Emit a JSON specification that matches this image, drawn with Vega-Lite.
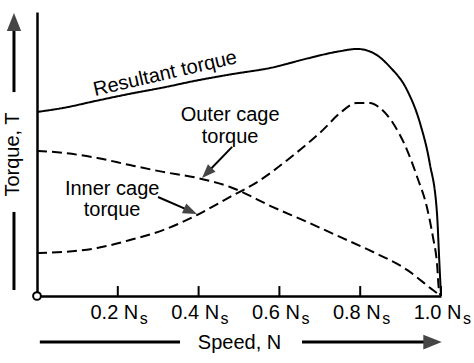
{
  "$schema": "https://vega.github.io/schema/vega-lite/v6.json",
  "width": 404,
  "height": 284,
  "autosize": "none",
  "padding": {"left": 37, "top": 12, "right": 33, "bottom": 67},
  "background": "white",
  "config": {"view": {"stroke": null}, "font": "Liberation Sans"},
  "datasets": {
    "curves": [
      {"curve": "Resultant", "speed": 0.0, "torque": 0.648},
      {"curve": "Resultant", "speed": 0.064, "torque": 0.662},
      {"curve": "Resultant", "speed": 0.149, "torque": 0.688},
      {"curve": "Resultant", "speed": 0.23, "torque": 0.712},
      {"curve": "Resultant", "speed": 0.312, "torque": 0.734},
      {"curve": "Resultant", "speed": 0.396, "torque": 0.759},
      {"curve": "Resultant", "speed": 0.478, "torque": 0.78},
      {"curve": "Resultant", "speed": 0.584, "torque": 0.805},
      {"curve": "Resultant", "speed": 0.668, "torque": 0.836},
      {"curve": "Resultant", "speed": 0.75, "torque": 0.862},
      {"curve": "Resultant", "speed": 0.792, "torque": 0.87},
      {"curve": "Resultant", "speed": 0.832, "torque": 0.856},
      {"curve": "Resultant", "speed": 0.874, "torque": 0.806},
      {"curve": "Resultant", "speed": 0.916, "torque": 0.725},
      {"curve": "Resultant", "speed": 0.948, "torque": 0.609},
      {"curve": "Resultant", "speed": 0.972, "torque": 0.468},
      {"curve": "Resultant", "speed": 0.99, "torque": 0.292},
      {"curve": "Resultant", "speed": 0.996, "torque": 0.116},
      {"curve": "Resultant", "speed": 1.0, "torque": 0.0},
      {"curve": "Outer", "speed": 0.0, "torque": 0.511},
      {"curve": "Outer", "speed": 0.064, "torque": 0.504},
      {"curve": "Outer", "speed": 0.149, "torque": 0.486},
      {"curve": "Outer", "speed": 0.23, "torque": 0.461},
      {"curve": "Outer", "speed": 0.312, "torque": 0.437},
      {"curve": "Outer", "speed": 0.396, "torque": 0.416},
      {"curve": "Outer", "speed": 0.478, "torque": 0.384},
      {"curve": "Outer", "speed": 0.584, "torque": 0.313},
      {"curve": "Outer", "speed": 0.668, "torque": 0.261},
      {"curve": "Outer", "speed": 0.75, "torque": 0.208},
      {"curve": "Outer", "speed": 0.832, "torque": 0.155},
      {"curve": "Outer", "speed": 0.916, "torque": 0.092},
      {"curve": "Outer", "speed": 0.98, "torque": 0.021},
      {"curve": "Outer", "speed": 1.0, "torque": 0.0},
      {"curve": "Inner", "speed": 0.0, "torque": 0.151},
      {"curve": "Inner", "speed": 0.064, "torque": 0.155},
      {"curve": "Inner", "speed": 0.149, "torque": 0.169},
      {"curve": "Inner", "speed": 0.23, "torque": 0.197},
      {"curve": "Inner", "speed": 0.312, "torque": 0.232},
      {"curve": "Inner", "speed": 0.396, "torque": 0.285},
      {"curve": "Inner", "speed": 0.478, "torque": 0.349},
      {"curve": "Inner", "speed": 0.545, "torque": 0.401},
      {"curve": "Inner", "speed": 0.626, "torque": 0.486},
      {"curve": "Inner", "speed": 0.708, "torque": 0.585},
      {"curve": "Inner", "speed": 0.75, "torque": 0.644},
      {"curve": "Inner", "speed": 0.792, "torque": 0.68},
      {"curve": "Inner", "speed": 0.824, "torque": 0.68},
      {"curve": "Inner", "speed": 0.849, "torque": 0.662},
      {"curve": "Inner", "speed": 0.881, "torque": 0.609},
      {"curve": "Inner", "speed": 0.916, "torque": 0.514},
      {"curve": "Inner", "speed": 0.941, "torque": 0.419},
      {"curve": "Inner", "speed": 0.965, "torque": 0.313},
      {"curve": "Inner", "speed": 0.98, "torque": 0.208},
      {"curve": "Inner", "speed": 0.99, "torque": 0.116},
      {"curve": "Inner", "speed": 0.995, "torque": 0.021},
      {"curve": "Inner", "speed": 1.0, "torque": 0.0}
    ],
    "ticks": [
      {"speed": 0.2, "torque": 0}, {"speed": 0.4, "torque": 0}, {"speed": 0.6, "torque": 0},
      {"speed": 0.8, "torque": 0}, {"speed": 1.0, "torque": 0}
    ],
    "labels": [
      {"text": "Outer cage", "speed": 0.478, "torque": 0.616},
      {"text": "torque", "speed": 0.478, "torque": 0.539},
      {"text": "Inner cage", "speed": 0.186, "torque": 0.356},
      {"text": "torque", "speed": 0.186, "torque": 0.282}
    ],
    "resultantLabel": [{"text": "Resultant torque", "speed": 0.317, "torque": 0.783}],
    "pointers": [
      {"name": "outer", "speed": 0.483, "torque": 0.525, "speed2": 0.4205, "torque2": 0.433},
      {"name": "inner", "speed": 0.2995, "torque": 0.3486, "speed2": 0.38, "torque2": 0.2986}
    ],
    "axisArrows": [
      {"name": "speed-left", "speed": 0.007, "torque": -0.162, "speed2": 0.354, "torque2": -0.162},
      {"name": "speed-right", "speed": 0.656, "torque": -0.162, "speed2": 0.97, "torque2": -0.162},
      {"name": "torque-top", "speed": -0.057, "torque": 0.718, "speed2": -0.057, "torque2": 0.944},
      {"name": "torque-bottom", "speed": -0.057, "torque": 0.296, "speed2": -0.057, "torque2": 0.021}
    ],
    "heads": [
      {"name": "outer", "speed": 0.4205, "torque": 0.433},
      {"name": "inner", "speed": 0.38, "torque": 0.2986},
      {"name": "speed", "speed": 0.979, "torque": -0.162},
      {"name": "torque", "speed": -0.057, "torque": 0.965}
    ],
    "origin": [{"speed": 0, "torque": 0}]
  },
  "encoding": {
    "x": {
      "field": "speed", "type": "quantitative",
      "scale": {"domain": [0, 1], "nice": false, "zero": false},
      "axis": {
        "values": [0.2, 0.4, 0.6, 0.8, 1.0],
        "labelExpr": "format(datum.value, '.1f') + ' N'",
        "labelAlign": "right", "labelOffset": 20, "labelFontSize": 20, "labelFont": "Liberation Sans",
        "labelColor": "black", "labelPadding": 6, "labelFlush": false, "labelOverlap": false,
        "ticks": false, "grid": false,
        "domainColor": "black", "domainWidth": 2.5,
        "title": "Speed, N", "titleFontSize": 20, "titleFontWeight": "normal",
        "titleFont": "Liberation Sans", "titleColor": "black", "titlePadding": 10
      }
    },
    "y": {
      "field": "torque", "type": "quantitative",
      "scale": {"domain": [0, 1], "nice": false, "zero": false},
      "axis": {
        "ticks": false, "labels": false, "grid": false,
        "domainColor": "black", "domainWidth": 2.5,
        "title": "Torque, T", "titleFontSize": 20, "titleFontWeight": "normal",
        "titleFont": "Liberation Sans", "titleColor": "black", "titlePadding": 15
      }
    }
  },
  "layer": [
    {
      "data": {"name": "curves"},
      "mark": {"type": "line", "color": "black", "strokeWidth": 2, "interpolate": "monotone"},
      "encoding": {
        "detail": {"field": "curve"},
        "strokeDash": {"field": "curve", "type": "nominal",
          "scale": {"domain": ["Resultant", "Outer", "Inner"], "range": [[1, 0], [10, 5], [10, 5]]},
          "legend": null}
      }
    },
    {
      "data": {"name": "ticks"},
      "mark": {"type": "rule", "color": "black", "strokeWidth": 2},
      "encoding": {"y2": {"datum": 0.035}}
    },
    {
      "data": {"name": "ticks"},
      "mark": {"type": "text", "text": "s", "fontSize": 16, "font": "Liberation Sans", "color": "black",
        "align": "left", "baseline": "alphabetic", "dx": 22, "dy": 28},
      "encoding": {}
    },
    {
      "data": {"name": "labels"},
      "mark": {"type": "text", "fontSize": 20, "font": "Liberation Sans", "color": "black",
        "align": "center", "baseline": "alphabetic"},
      "encoding": {"text": {"field": "text"}}
    },
    {
      "data": {"name": "resultantLabel"},
      "mark": {"type": "text", "fontSize": 20, "font": "Liberation Sans", "color": "black",
        "align": "center", "baseline": "middle", "angle": -13},
      "encoding": {"text": {"field": "text"}}
    },
    {
      "data": {"name": "pointers"},
      "mark": {"type": "rule", "color": "black", "strokeWidth": 2},
      "encoding": {"x2": {"field": "speed2"}, "y2": {"field": "torque2"}}
    },
    {
      "data": {"name": "axisArrows"},
      "mark": {"type": "rule", "color": "black", "strokeWidth": 3},
      "encoding": {"x2": {"field": "speed2"}, "y2": {"field": "torque2"}}
    },
    {
      "data": {"name": "heads"},
      "transform": [{"filter": "datum.name == 'outer'"}],
      "mark": {"type": "point", "shape": "M1,0L-1,-0.75L-1,0.75Z", "filled": true, "color": "#454545",
        "opacity": 1, "size": 196, "angle": 134},
      "encoding": {}
    },
    {
      "data": {"name": "heads"},
      "transform": [{"filter": "datum.name == 'inner'"}],
      "mark": {"type": "point", "shape": "M1,0L-1,-0.75L-1,0.75Z", "filled": true, "color": "#454545",
        "opacity": 1, "size": 196, "angle": 24},
      "encoding": {}
    },
    {
      "data": {"name": "heads"},
      "transform": [{"filter": "datum.name == 'speed'"}],
      "mark": {"type": "point", "shape": "M1,0L-1,-0.8L-1,0.8Z", "filled": true, "color": "#454545",
        "opacity": 1, "size": 340, "angle": 0},
      "encoding": {}
    },
    {
      "data": {"name": "heads"},
      "transform": [{"filter": "datum.name == 'torque'"}],
      "mark": {"type": "point", "shape": "M1,0L-1,-0.8L-1,0.8Z", "filled": true, "color": "#454545",
        "opacity": 1, "size": 320, "angle": 270},
      "encoding": {}
    },
    {
      "data": {"name": "origin"},
      "mark": {"type": "point", "shape": "circle", "filled": true, "fill": "white", "stroke": "black",
        "strokeWidth": 2, "opacity": 1, "size": 60},
      "encoding": {}
    }
  ]
}
